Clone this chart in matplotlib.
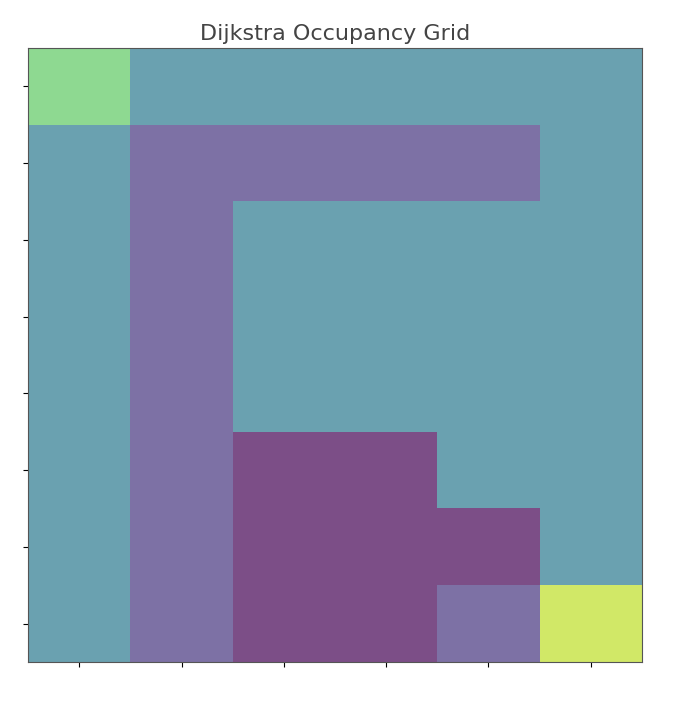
import matplotlib
matplotlib.use("Agg")
import matplotlib.pyplot as plt
import numpy as np

# cell values (viridis scale 0..1)
row0 = [0.75, 0.4, 0.4, 0.4, 0.4, 0.4]
row1 = [0.4, 0.15, 0.15, 0.15, 0.15, 0.4]
row2 = [0.4, 0.15, 0.4, 0.4, 0.4, 0.4]
row3 = [0.4, 0.15, 0.4, 0.4, 0.4, 0.4]
row4 = [0.4, 0.15, 0.4, 0.4, 0.4, 0.4]
row5 = [0.4, 0.15, 0.0, 0.0, 0.4, 0.4]
row6 = [0.4, 0.15, 0.0, 0.0, 0.0, 0.4]
row7 = [0.4, 0.15, 0.0, 0.0, 0.15, 0.9]
grid = np.array([row0, row1, row2, row3, row4, row5, row6, row7])

fig = plt.figure(figsize=(6.87, 7.18), dpi=100)
ax = fig.add_axes([0.041, 0.078, 0.893, 0.855])
ax.imshow(grid, cmap="viridis", vmin=0, vmax=1, alpha=0.7, aspect="auto", interpolation="nearest")
ax.set_xticks(range(grid.shape[1]))
ax.set_yticks(range(grid.shape[0]))
ax.set_xticklabels([])
ax.set_yticklabels([])
for s in ax.spines.values():
    s.set_color("#555555")
ax.set_title("Dijkstra Occupancy Grid", fontsize=16, color="#444444")
fig.savefig("out.png", dpi=100)
